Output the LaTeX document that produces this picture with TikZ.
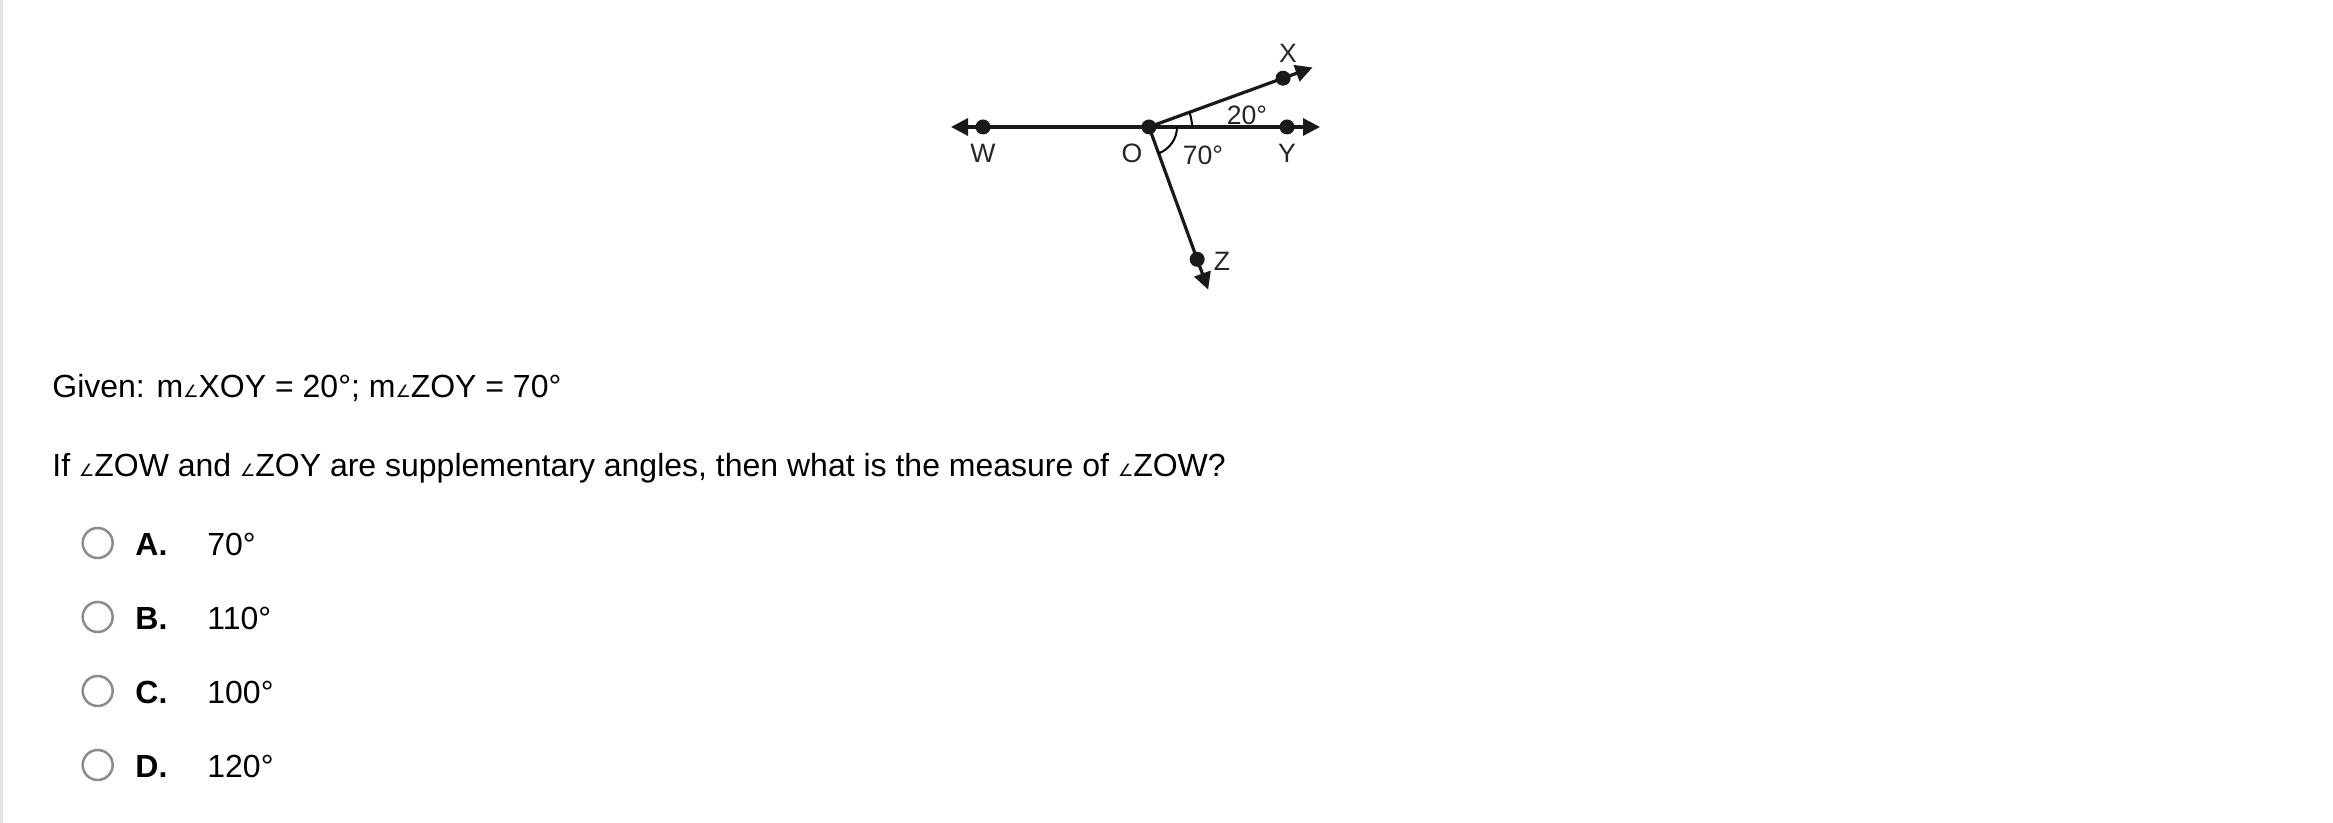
\documentclass[tikz,border=0pt]{standalone}
\usepackage{fontspec}
\setmainfont{Liberation Sans}
\newfontfamily\symfont{DejaVu Sans}
\usetikzlibrary{arrows.meta,calc,positioning}
\newcommand{\ang}{{\symfont\fontsize{8.5}{8.5}\selectfont ∠}}

\begin{document}
\begin{tikzpicture}[x=0.5pt,y=0.5pt,
  ray/.style={line width=1.6pt,color=black!90},
  tip/.style={-{Triangle[length=8.5pt,width=8.5pt]}},
  both/.style={{Triangle[length=8.5pt,width=8.5pt]}-{Triangle[length=8.5pt,width=8.5pt]}},
  pt/.style={fill=black!90},
  lbl/.style={font=\fontsize{13.3}{15}\selectfont,text=black!85,inner sep=0pt},
  txt/.style={font=\fontsize{16}{19}\selectfont,anchor=base west,inner sep=0pt},
  opt/.style={draw=black!45,line width=1.25pt},
  key/.style={font=\fontsize{16}{19}\selectfont\bfseries,anchor=base west,inner sep=0pt}]
\useasboundingbox (0,0) rectangle (2333,823);
\fill[black!10] (0,0) rectangle (2.5,823); % left edge

% points
\coordinate (O) at (1149,696);
\coordinate (W) at (983,696);
\coordinate (Y) at (1287,696);
\coordinate (Wend) at (951,696);
\coordinate (Yend) at (1320,696);
\coordinate (X) at ($(O)+(20:142.7)$);
\coordinate (Xend) at ($(O)+(20:174)$);
\coordinate (Z) at ($(O)+(-70:140.8)$);
\coordinate (Zend) at ($(O)+(-70:173)$);

% lines and rays
\draw[ray,both] (Wend) -- (Yend);
\draw[ray,tip] (O) -- (Xend);
\draw[ray,tip] (O) -- (Zend);
\draw[line width=1pt] ($(O)+(0:43)$) arc (0:20:43); % XOY
\draw[line width=1pt] ($(O)+(-70:28)$) arc (-70:0:28); % ZOY
\foreach \p in {O,W,Y,X,Z}
  \fill[pt] (\p) circle (7.5);

% labels
\node[lbl] (labX) at (1288,770) {X};
\node[lbl] (labW) at (983,670) {W};
\node[lbl] (labO) at (1132,670) {O};
\node[lbl] (labY) at (1287,670) {Y};
\node[lbl] (labZ) at (1222,562) {Z};
\node[lbl] (deg20) at (1247,708) {20°};
\node[lbl] (deg70) at (1203,668) {70°};

% question
\node[txt] (given) at (52,425) {Given: m\ang XOY = 20°; m\ang ZOY = 70°};
\node[txt] (ask) at (52,346) {If \ang ZOW and \ang ZOY are supplementary angles, then what is the measure of \ang ZOW?};

% choices
\foreach \k/\v/\y in {A/70/267,B/110/193,C/100/119,D/120/45} {
  \draw[opt] (97.7,\y+13) circle (15);
  \node[key] (key\k) at (135,\y) {\k.};
  \node[txt] (val\k) at (207,\y) {\v°};
}
\end{tikzpicture}
\end{document}
